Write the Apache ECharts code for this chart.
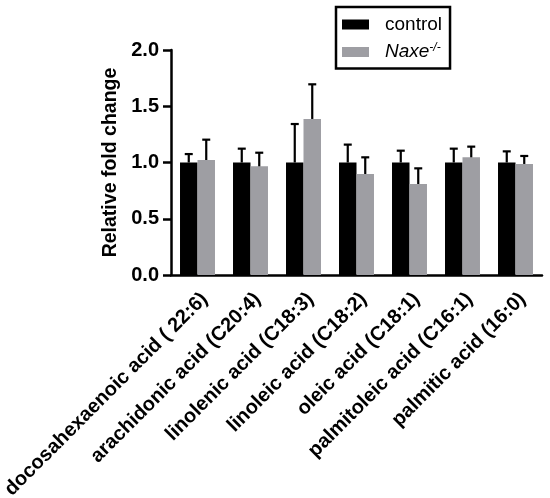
<!DOCTYPE html>
<html>
<head>
<meta charset="utf-8">
<script src="https://cdn.jsdelivr.net/npm/echarts@6/dist/echarts.min.js"></script>
<style>html,body{margin:0;padding:0;background:#fff;}#c{width:550px;height:498px;}</style>
</head>
<body>
<div id="c"></div>
<script>
var categories = ['docosahexaenoic acid ( 22:6)', 'arachidonic acid (C20:4)', 'linolenic acid (C18:3)', 'linoleic acid (C18:2)', 'oleic acid (C18:1)', 'palmitoleic acid (C16:1)', 'palmitic acid (16:0)'];
var controlMean = [1.0, 1.0, 1.0, 1.0, 1.0, 1.0, 1.0];
var controlUpper = [1.075, 1.123, 1.342, 1.159, 1.105, 1.123, 1.099];
var naxeMean = [1.022, 0.966, 1.387, 0.898, 0.809, 1.046, 0.987];
var naxeUpper = [1.203, 1.087, 1.695, 1.046, 0.948, 1.141, 1.058];
var yTicks = [0, 0.5, 1.0, 1.5, 2.0];

var FONT = 'Liberation Sans, Arial, sans-serif';
var chart = echarts.init(document.getElementById('c'));

function errSeries(means, uppers, side) {
  return {
    type: 'custom',
    z: 5,
    data: means.map(function (m, i) { return [i, m, uppers[i]]; }),
    renderItem: function (params, api) {
      var idx = api.value(0);
      var p0 = api.coord([idx, api.value(1)]);
      var p1 = api.coord([idx, api.value(2)]);
      var band = api.size([1, 0])[0];
      var x = p0[0] + side * band * 0.165;
      var half = 4;
      var st = { stroke: '#000', lineWidth: 2.2 };
      return {
        type: 'group',
        children: [
          { type: 'line', shape: { x1: x, y1: p0[1], x2: x, y2: p1[1] }, style: st },
          { type: 'line', shape: { x1: x - half, y1: p1[1], x2: x + half, y2: p1[1] }, style: st }
        ]
      };
    }
  };
}

chart.setOption({
  animation: false,
  backgroundColor: '#fff',
  grid: { left: 171, right: 8, top: 50, bottom: 223, containLabel: false, outerBoundsMode: 'none' },
  legend: {
    orient: 'vertical',
    left: 336,
    top: 7,
    padding: [8, 8, 7, 6],
    itemGap: 8,
    itemWidth: 27,
    itemHeight: 10,
    icon: 'rect',
    borderColor: '#000',
    borderWidth: 2.5,
    data: ['control', 'Naxe-/-'],
    formatter: function (name) {
      return name === 'control' ? '{n|control}' : '{i|Naxe}{s|-/-}';
    },
    textStyle: {
      padding: [0, 0, 0, 11],
      color: '#000',
      fontFamily: FONT,
      fontSize: 19,
      rich: {
        n: { fontSize: 19, fontFamily: FONT, color: '#000' },
        i: { fontSize: 19, fontFamily: FONT, fontStyle: 'italic', color: '#000' },
        s: { fontSize: 12, fontFamily: FONT, fontStyle: 'italic', color: '#000', verticalAlign: 'top', padding: [0, 0, 8, 0] }
      }
    }
  },
  xAxis: {
    type: 'category',
    data: categories,
    axisLine: { lineStyle: { color: '#000', width: 2.5 } },
    axisTick: { alignWithLabel: true, length: 8, lineStyle: { color: '#000', width: 2.5 } },
    axisLabel: {
      interval: 0,
      rotate: 45,
      margin: 14,
      verticalAlign: 'top',
      color: '#000',
      fontFamily: FONT,
      fontWeight: 'bold',
      fontSize: 20
    }
  },
  yAxis: {
    type: 'value',
    min: 0,
    max: 2,
    interval: 0.5,
    name: 'Relative fold change',
    nameLocation: 'middle',
    nameGap: 44,
    nameTextStyle: { color: '#000', fontFamily: FONT, fontWeight: 'bold', fontSize: 19.5 },
    axisLine: { show: true, lineStyle: { color: '#000', width: 2.5 } },
    axisTick: { show: true, length: 8, lineStyle: { color: '#000', width: 2.5 } },
    splitLine: { show: false },
    axisLabel: {
      margin: 12,
      color: '#000',
      fontFamily: FONT,
      fontWeight: 'bold',
      fontSize: 20,
      formatter: function (v) { return yTicks.indexOf(v) >= 0 ? v.toFixed(1) : ''; }
    }
  },
  series: [
    { name: 'control', type: 'bar', data: controlMean, barWidth: '33%', barGap: '0%', itemStyle: { color: '#000' } },
    { name: 'Naxe-/-', type: 'bar', data: naxeMean, barWidth: '33%', barGap: '0%', itemStyle: { color: '#9e9ea3' } },
    errSeries(controlMean, controlUpper, -1),
    errSeries(naxeMean, naxeUpper, 1)
  ]
});
</script>
</body>
</html>
